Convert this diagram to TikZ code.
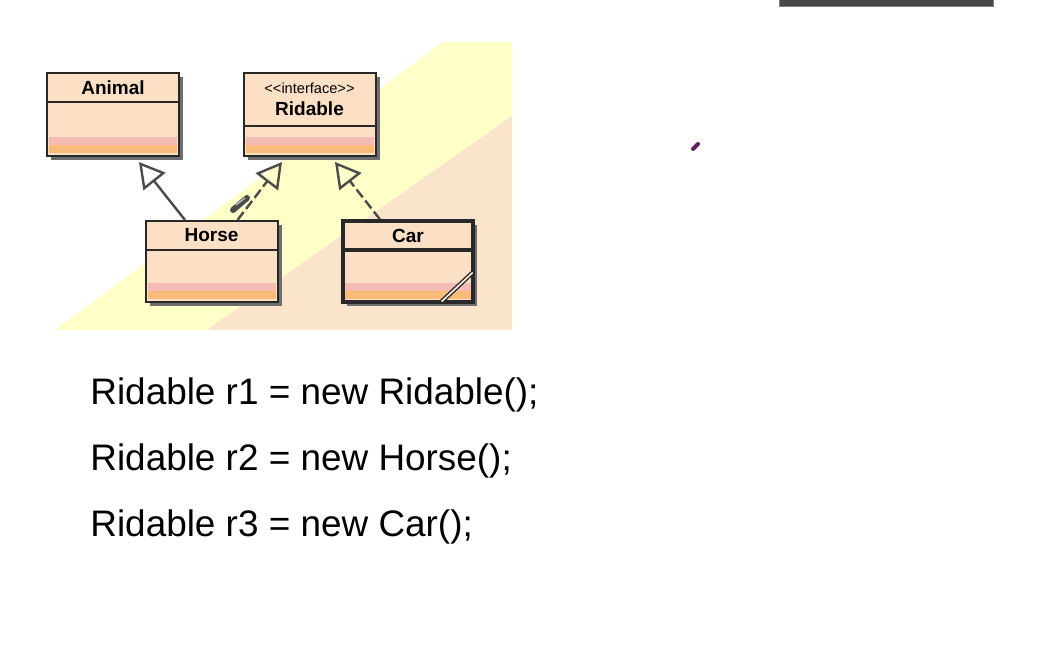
\documentclass[tikz,border=0pt]{standalone}
\usepackage{fontspec}
\setmainfont{Liberation Sans}
\usetikzlibrary{arrows.meta,shadows}
\definecolor{paper}{RGB}{255,255,255}
\definecolor{lemon}{RGB}{255,255,200}
\definecolor{apricot}{RGB}{251,228,204}
\definecolor{boxfill}{RGB}{252,224,198}
\definecolor{rosebar}{RGB}{244,186,180}
\definecolor{orangebar}{RGB}{250,186,122}
\definecolor{boxline}{RGB}{40,40,40}
\definecolor{shadowgray}{RGB}{110,110,110}
\definecolor{linegray}{RGB}{75,75,75}
\definecolor{inkpurple}{RGB}{95,30,95}
\definecolor{bargray}{RGB}{72,72,72}

\tikzset{
  classbody/.style={draw=boxline, line width=1pt, fill=boxfill, minimum width=66pt, minimum height=41.5pt, inner sep=0pt,
    drop shadow={shadow xshift=2pt, shadow yshift=-2pt, fill=shadowgray, opacity=1},
    path picture={
      \fill[rosebar]   ([xshift=1pt,yshift=5.5pt]path picture bounding box.south west) rectangle ([xshift=-1pt,yshift=9.5pt]path picture bounding box.south east);
      \fill[orangebar] ([xshift=1pt,yshift=1.5pt]path picture bounding box.south west) rectangle ([xshift=-1pt,yshift=5.5pt]path picture bounding box.south east);
    }},
  classhead/.style={draw=boxline, line width=1pt, minimum width=66pt, inner sep=0pt, anchor=north, font=\bfseries\fontsize{9.5}{11}\selectfont},
  realizes/.style={draw=linegray, line width=1.2pt, dash pattern=on 5pt off 2pt, -{Triangle[open,length=12.5pt,width=14pt]}},
  extends/.style={realizes, solid},
  codeline/.style={anchor=base west, inner sep=0pt, font=\fontsize{18.45}{22}\selectfont}
}

\begin{document}
\begin{tikzpicture}[x=0.5pt,y=-0.5pt]
            \useasboundingbox (0,0) rectangle (1054,656);
            % backdrop of the diagram
            \fill[lemon]   ( 55,330) -- (443, 42) -- (512, 42) -- (512,330) -- cycle;
            \fill[apricot] (207,330) -- (512,116) -- (512,330) -- cycle;
            % classes
            \node[classbody]                                   (animal)      at (113,114.5) {};
            \node[classhead, minimum height=14.5pt]            (animalhead)  at (animal.north) {Animal};
            \node[classbody]                                   (ridable)     at (309.5,114.5) {};
            \node[classhead, minimum height=26.5pt, align=center] (ridablehead) at (ridable.north) {{\mdseries\fontsize{7.3}{9}\selectfont <{}<interface>{}>}\\Ridable};
            \node[classbody, minimum height=40.5pt]            (horse)       at (211.5,261.5) {};
            \node[classhead, minimum height=14.5pt]            (horsehead)   at (horse.north) {Horse};
            \node[classbody, minimum height=40.5pt, minimum width=65pt, line width=1.6pt] (car) at (408,261.5) {};
            \node[classhead, minimum height=14.5pt, minimum width=65pt, line width=1.6pt] (carhead) at (car.north) {Car};
            \draw[boxline, line width=0.7pt, double=boxfill!40!white, double distance=0.8pt] ([xshift=-16.5pt,yshift=1pt]car.south east) -- ([xshift=-1pt,yshift=15.5pt]car.south east);
            % inheritance
            \draw[extends]  ([xshift=-13.25pt]horse.north) -- ([xshift=13pt,yshift=-2.5pt]animal.south);
            \draw[realizes] ([xshift=13pt]horse.north)     -- ([xshift=-13.75pt,yshift=-2.5pt]ridable.south);
            \draw[realizes] ([xshift=-14pt]car.north)      -- ([xshift=12.75pt,yshift=-2.5pt]ridable.south);
            % pen marks
            \draw[linegray, line width=3pt, line cap=round]   (233,210) -- (247,198);
            \draw[gray!40, line width=0.6pt, line cap=round]  (236,205) -- (245,198);
            \draw[inkpurple, line width=2pt, line cap=round]  (693,149) -- (698,144);
            \filldraw[draw=gray, fill=bargray]                (779,-3) rectangle (993,6);
            % code
            \node[codeline] (lineone)   at (90,405) {Ridable r1 = new Ridable();};
            \node[codeline] (linetwo)   at (90,471) {Ridable r2 = new Horse();};
            \node[codeline] (linethree) at (90,537) {Ridable r3 = new Car();};
\end{tikzpicture}
\end{document}
